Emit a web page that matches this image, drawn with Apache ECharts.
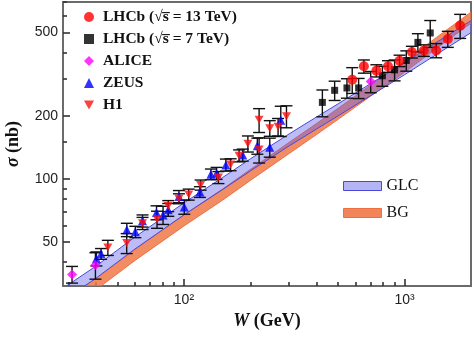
<!DOCTYPE html>
<html>
<head>
<meta charset="utf-8">
<script src="https://cdn.jsdelivr.net/npm/echarts@6/dist/echarts.min.js"></script>
<style>
  html, body { margin: 0; padding: 0; background: #fff; }
  #chart { width: 474px; height: 344px; }
</style>
</head>
<body>
<div id="chart"></div>
<script>
// ---- J/psi photoproduction cross section vs W ----

// LHCb, sqrt(s) = 13 TeV
const lhcb13W     = [579, 654, 745, 841, 949, 1079, 1223, 1391, 1570, 1786];
const lhcb13Sigma = [298, 345, 329, 345, 367, 404, 411, 411, 466, 540];
const lhcb13Err   = [42, 25, 22, 22, 23, 26, 26, 32, 41, 71];

// LHCb, sqrt(s) = 7 TeV
const lhcb7W     = [424, 482, 548, 619, 793, 901, 1018, 1149, 1307];
const lhcb7Sigma = [232, 265, 272, 272, 311, 332, 368, 449, 498];
const lhcb7Err   = [34, 28, 29, 30, 34, 38, 41, 45, 73];

// ALICE
const aliceW     = [31.1, 39.7, 702];
const aliceSigma = [35.0, 38.8, 292];
const aliceErr   = [3.2, 5.6, 34];

// ZEUS
const zeusW     = [40.1, 42.1, 55.1, 60.2, 64.9, 75.1, 80.4, 84.9, 94.9, 100.3, 118.1, 132.5, 140.6, 154.9, 184.7, 215.1, 244.9, 274.7];
const zeusSigma = [41.6, 43.9, 57.2, 55.9, 63.1, 69.1, 67.3, 71.3, 82.5, 73.5, 86.7, 105.3, 106.5, 116.7, 130.2, 143.9, 141.8, 190.9];
const zeusErr   = [3.2, 2.6, 4.2, 3.5, 4.2, 5.3, 6.7, 5.0, 5.5, 5.7, 5.1, 6.2, 7.0, 7.7, 8.6, 12.7, 14.8, 31.5];

// H1
const h1W     = [45.2, 55.0, 64.9, 75.5, 84.9, 94.9, 105.1, 119.0, 143.3, 162.7, 177.8, 194.9, 219.1, 219.1, 244.9, 267.1, 291.5];
const h1Sigma = [47.0, 49.4, 61.4, 64.1, 74.3, 80.5, 84.3, 93.6, 101.7, 117.1, 129.1, 147.4, 138.1, 191.6, 174.8, 177.4, 199.5];
const h1Err   = [3.9, 5.4, 4.1, 6.0, 4.5, 4.4, 5.1, 5.2, 6.7, 7.7, 8.5, 13.0, 19.0, 25.0, 15.0, 17.0, 24.0];

// Model bands: lower / upper edges at common W nodes
const bandW   = [28, 40, 60, 100, 150, 200, 300, 400, 500, 700, 1000, 1400, 2000];
const glcLow  = [26.1, 33.6, 46.3, 67.3, 89.1, 109.2, 143.9, 173.5, 200.1, 249.5, 314.5, 394.1, 499.6];
const glcHigh = [29.8, 38.4, 52.8, 76.8, 101.7, 124.7, 164.2, 198.0, 228.5, 284.8, 358.9, 449.9, 570.2];
const bgLow   = [23.0, 29.6, 40.8, 59.6, 79.3, 98.4, 132.4, 163.3, 192.7, 248.2, 323.3, 421.1, 554.6];
const bgHigh  = [25.9, 33.4, 46.0, 67.3, 89.6, 111.0, 149.5, 184.3, 217.4, 280.2, 364.9, 475.3, 626.0];

// Axis ticks and labels
const xMinorTicks = [30, 40, 50, 60, 70, 80, 90, 200, 300, 400, 500, 600, 700, 800, 900];
const xMajorTicks = [100, 1000];
const xTickLabels = { 100: '10²', 1000: '10³' };
const yMinorTicks = [40, 60, 70, 80, 90, 150, 300, 400, 600, 700];
const yMajorTicks = [50, 100, 200, 500];

const legendLabels = {
  'LHCb13': 'LHCb (√s̅ = 13 TeV)',
  'LHCb7': 'LHCb (√s̅ = 7 TeV)',
  'ALICE': 'ALICE',
  'ZEUS': 'ZEUS',
  'H1': 'H1'
};

const SERIF = '"Liberation Serif", "DejaVu Serif", serif';
const SANS = '"Liberation Sans", Arial, sans-serif';
const DOWN_TRIANGLE = 'path://M0,0 L10,0 L5,9 Z';

function points(ws, ss) { return ws.map((w, i) => [w, ss[i]]); }
function bars(ws, ss, es) { return ws.map((w, i) => [w, ss[i], ss[i] - es[i], ss[i] + es[i]]); }

function errorBarItem(params, api) {
  const w = api.value(0);
  const top = api.coord([w, api.value(3)]);
  const bot = api.coord([w, api.value(2)]);
  const half = 6;
  const style = { stroke: '#111', lineWidth: 1.4, fill: null };
  return {
    type: 'group',
    children: [
      { type: 'line', shape: { x1: top[0], y1: top[1], x2: bot[0], y2: bot[1] }, style },
      { type: 'line', shape: { x1: top[0] - half, y1: top[1], x2: top[0] + half, y2: top[1] }, style },
      { type: 'line', shape: { x1: bot[0] - half, y1: bot[1], x2: bot[0] + half, y2: bot[1] }, style }
    ]
  };
}

function bandRenderer(low, high, fill, stroke) {
  return function (params, api) {
    const upper = bandW.map((w, i) => api.coord([w, high[i]]));
    const lower = bandW.map((w, i) => api.coord([w, low[i]]));
    return {
      type: 'group',
      children: [
        { type: 'polygon', shape: { points: upper.concat(lower.slice().reverse()) }, style: { fill: fill, stroke: null } },
        { type: 'polyline', shape: { points: upper }, style: { stroke: stroke, lineWidth: 1, fill: null } },
        { type: 'polyline', shape: { points: lower }, style: { stroke: stroke, lineWidth: 1, fill: null } }
      ]
    };
  };
}

function errSeries(name, ws, ss, es) {
  return {
    name: name, type: 'custom', z: 3, clip: true,
    renderItem: errorBarItem,
    encode: { x: 0, y: [1, 2, 3] },
    data: bars(ws, ss, es),
    silent: true
  };
}

const GLC_FILL = 'rgba(95, 95, 235, 0.42)';
const GLC_LINE = '#4a4ad8';
const BG_FILL = 'rgba(240, 120, 70, 0.85)';
const BG_LINE = '#ee7040';

const tickLine = { color: '#333', width: 1.6 };
const titleStyle = {
  fontFamily: SERIF, fontWeight: 'bold', fontSize: 18, color: '#111',
  rich: { i: { fontFamily: SERIF, fontStyle: 'italic', fontWeight: 'bold', fontSize: 18, color: '#111' } }
};

const option = {
  animation: false,
  backgroundColor: '#fff',
  grid: {
    left: 63, right: 3, top: 2, bottom: 58,
    outerBoundsMode: 'none', containLabel: false,
    show: true, borderColor: '#6b6b6b', borderWidth: 2, backgroundColor: 'transparent'
  },
  xAxis: [
    {
      type: 'log', logBase: 10, min: 28.3, max: 2000,
      axisLine: { show: false },
      axisTick: { show: true, inside: true, length: 4, lineStyle: tickLine, customValues: xMinorTicks },
      axisLabel: {
        customValues: xMajorTicks, margin: 7, color: '#222', fontSize: 14, fontFamily: SANS,
        formatter: v => xTickLabels[Math.round(v)] || ''
      },
      splitLine: { show: false },
      name: '{i|W} (GeV)', nameLocation: 'middle', nameGap: 25,
      nameTextStyle: titleStyle
    },
    {
      type: 'log', logBase: 10, min: 28.3, max: 2000, position: 'bottom',
      axisLine: { show: false },
      axisTick: { show: true, inside: true, length: 7, lineStyle: tickLine, customValues: xMajorTicks },
      axisLabel: { show: false },
      splitLine: { show: false }
    }
  ],
  yAxis: [
    {
      type: 'log', logBase: 10, min: 30.8, max: 700,
      axisLine: { show: false },
      axisTick: { show: true, inside: true, length: 4, lineStyle: tickLine, customValues: yMinorTicks },
      axisLabel: {
        customValues: yMajorTicks, margin: 5, color: '#222', fontSize: 14, fontFamily: SANS,
        formatter: v => String(Math.round(v))
      },
      splitLine: { show: false },
      name: '{i|σ} (nb)', nameLocation: 'middle', nameGap: 41,
      nameTextStyle: titleStyle
    },
    {
      type: 'log', logBase: 10, min: 30.8, max: 700, position: 'left',
      axisLine: { show: false },
      axisTick: { show: true, inside: true, length: 7, lineStyle: tickLine, customValues: yMajorTicks },
      axisLabel: { show: false },
      splitLine: { show: false }
    }
  ],
  legend: [
    {
      orient: 'vertical', left: 84, top: 9, padding: 0,
      itemWidth: 10, itemHeight: 10, itemGap: 6,
      data: [
        'LHCb13',
        { name: 'LHCb7', icon: 'rect', itemStyle: { color: '#000' } },
        'ALICE', 'ZEUS',
        { name: 'H1', icon: DOWN_TRIANGLE }
      ],
      formatter: n => legendLabels[n],
      textStyle: { fontFamily: SERIF, fontWeight: 'bold', fontSize: 15.5, lineHeight: 14, color: '#111', padding: [0, 0, 0, 4] },
      selectedMode: false
    },
    {
      orient: 'vertical', left: 343, top: 178, padding: 0,
      itemWidth: 38, itemHeight: 9, itemGap: 11,
      data: [
        { name: 'GLC', icon: 'rect', itemStyle: { color: 'rgba(180,180,245,1)', borderColor: GLC_LINE, borderWidth: 1 } },
        { name: 'BG', icon: 'rect', itemStyle: { color: '#f2845a', borderColor: BG_LINE, borderWidth: 1 } }
      ],
      textStyle: { fontFamily: SERIF, fontSize: 16, lineHeight: 16, color: '#111' },
      selectedMode: false
    }
  ],
  series: [
    {
      name: 'BG', type: 'custom', z: 1, clip: true,
      renderItem: bandRenderer(bgLow, bgHigh, BG_FILL, BG_LINE),
      itemStyle: { color: BG_FILL },
      data: [[bandW[0], bgLow[0]]], silent: true
    },
    {
      name: 'GLC', type: 'custom', z: 2, clip: true,
      renderItem: bandRenderer(glcLow, glcHigh, GLC_FILL, GLC_LINE),
      itemStyle: { color: GLC_FILL },
      data: [[bandW[0], glcLow[0]]], silent: true
    },
    errSeries('ZEUS err', zeusW, zeusSigma, zeusErr),
    errSeries('H1 err', h1W, h1Sigma, h1Err),
    errSeries('ALICE err', aliceW, aliceSigma, aliceErr),
    errSeries('LHCb7 err', lhcb7W, lhcb7Sigma, lhcb7Err),
    errSeries('LHCb13 err', lhcb13W, lhcb13Sigma, lhcb13Err),
    {
      name: 'ZEUS', type: 'scatter', z: 4, symbol: 'triangle', symbolSize: 9,
      itemStyle: { color: '#0000ff' }, data: points(zeusW, zeusSigma)
    },
    {
      name: 'H1', type: 'scatter', z: 4, symbol: DOWN_TRIANGLE, symbolSize: [9, 8],
      itemStyle: { color: '#ff1010' }, data: points(h1W, h1Sigma)
    },
    {
      name: 'ALICE', type: 'scatter', z: 4, symbol: 'diamond', symbolSize: 10,
      itemStyle: { color: '#ff00ff' }, data: points(aliceW, aliceSigma)
    },
    {
      name: 'LHCb7', type: 'scatter', z: 4, symbol: 'rect', symbolSize: 7,
      itemStyle: { color: '#000' }, data: points(lhcb7W, lhcb7Sigma)
    },
    {
      name: 'LHCb13', type: 'scatter', z: 4, symbol: 'circle', symbolSize: 10,
      itemStyle: { color: '#ff0000' }, data: points(lhcb13W, lhcb13Sigma)
    }
  ]
};

const chart = echarts.init(document.getElementById('chart'), null, { renderer: 'canvas' });
chart.setOption(option);
</script>
</body>
</html>
